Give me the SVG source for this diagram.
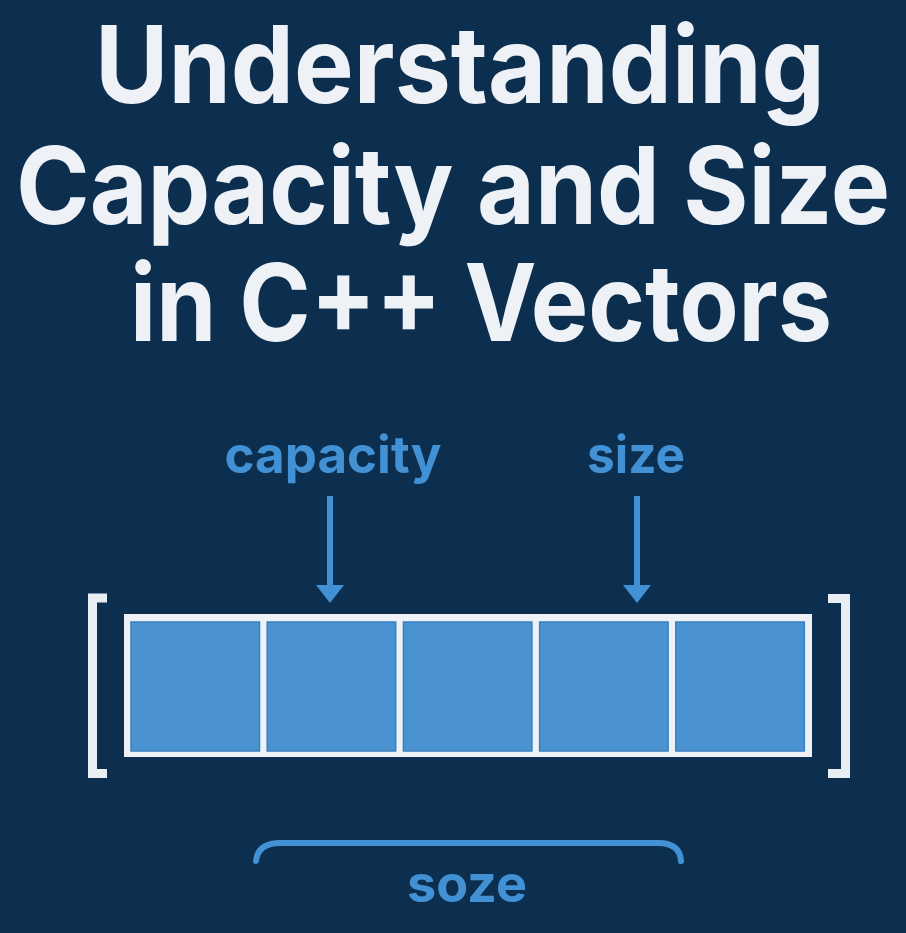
<svg xmlns="http://www.w3.org/2000/svg" width="906" height="933" viewBox="0 0 906 933">
<defs>
<style>
.title{font-family:Inter,"Liberation Sans",Arial,sans-serif;font-weight:bold;fill:#eef1f5;font-size:107px;text-anchor:middle}
.lbl{font-family:Inter,"Liberation Sans",Arial,sans-serif;font-weight:bold;fill:#4291d4;font-size:52px;text-anchor:middle}
.cell{fill:#4a92d0;stroke:#3a80c0;stroke-width:1.5}
.brk{fill:none;stroke:#e9eef3;stroke-width:9}
.shaft{stroke:#4291d4;stroke-width:6;fill:none}
.head{fill:#4291d4}
</style>
</defs>
<rect x="0" y="0" width="906" height="933" fill="#0c2f4f"/>
<g id="title">
<text class="title" x="460" y="103" textLength="730" lengthAdjust="spacingAndGlyphs">Understanding</text>
<text class="title" x="453" y="224" textLength="874" lengthAdjust="spacingAndGlyphs">Capacity and Size</text>
<text class="title" x="481" y="341" font-size="99" textLength="702" lengthAdjust="spacingAndGlyphs">in C++ Vectors</text>
</g>
<g id="label-capacity"><text class="lbl" x="333" y="473" textLength="217" lengthAdjust="spacingAndGlyphs">capacity</text></g>
<g id="label-size"><text class="lbl" x="636" y="473" textLength="98" lengthAdjust="spacingAndGlyphs">size</text></g>
<g id="vector">
<rect x="124" y="614" width="688" height="143" fill="#eef2f6"/>
<rect class="cell" x="131" y="622" width="128.5" height="129"/>
<rect class="cell" x="267.2" y="622" width="128.5" height="129"/>
<rect class="cell" x="403.4" y="622" width="128.5" height="129"/>
<rect class="cell" x="539.6" y="622" width="128.5" height="129"/>
<rect class="cell" x="675.8" y="622" width="128.5" height="129"/>
</g>
<g id="left-bracket"><path class="brk" d="M107 598 H92.5 V773.5 H107"/></g>
<g id="right-bracket"><path class="brk" d="M828 598.5 H845.5 V773.5 H828"/></g>
<g id="connectors">
<line class="shaft" x1="330" y1="496" x2="330" y2="587"/>
<polygon class="head" points="316,585 344,585 330,603"/>
<line class="shaft" x1="637" y1="496" x2="637" y2="587"/>
<polygon class="head" points="623,585 651,585 637,603"/>
<path d="M256 861 Q258 843 280 843 H658 Q680 843 681 861" fill="none" stroke="#4291d4" stroke-width="6" stroke-linecap="round"/>
</g>
<g id="label-soze"><text class="lbl" x="467" y="902" font-size="54" textLength="120" lengthAdjust="spacingAndGlyphs">soze</text></g>
</svg>
